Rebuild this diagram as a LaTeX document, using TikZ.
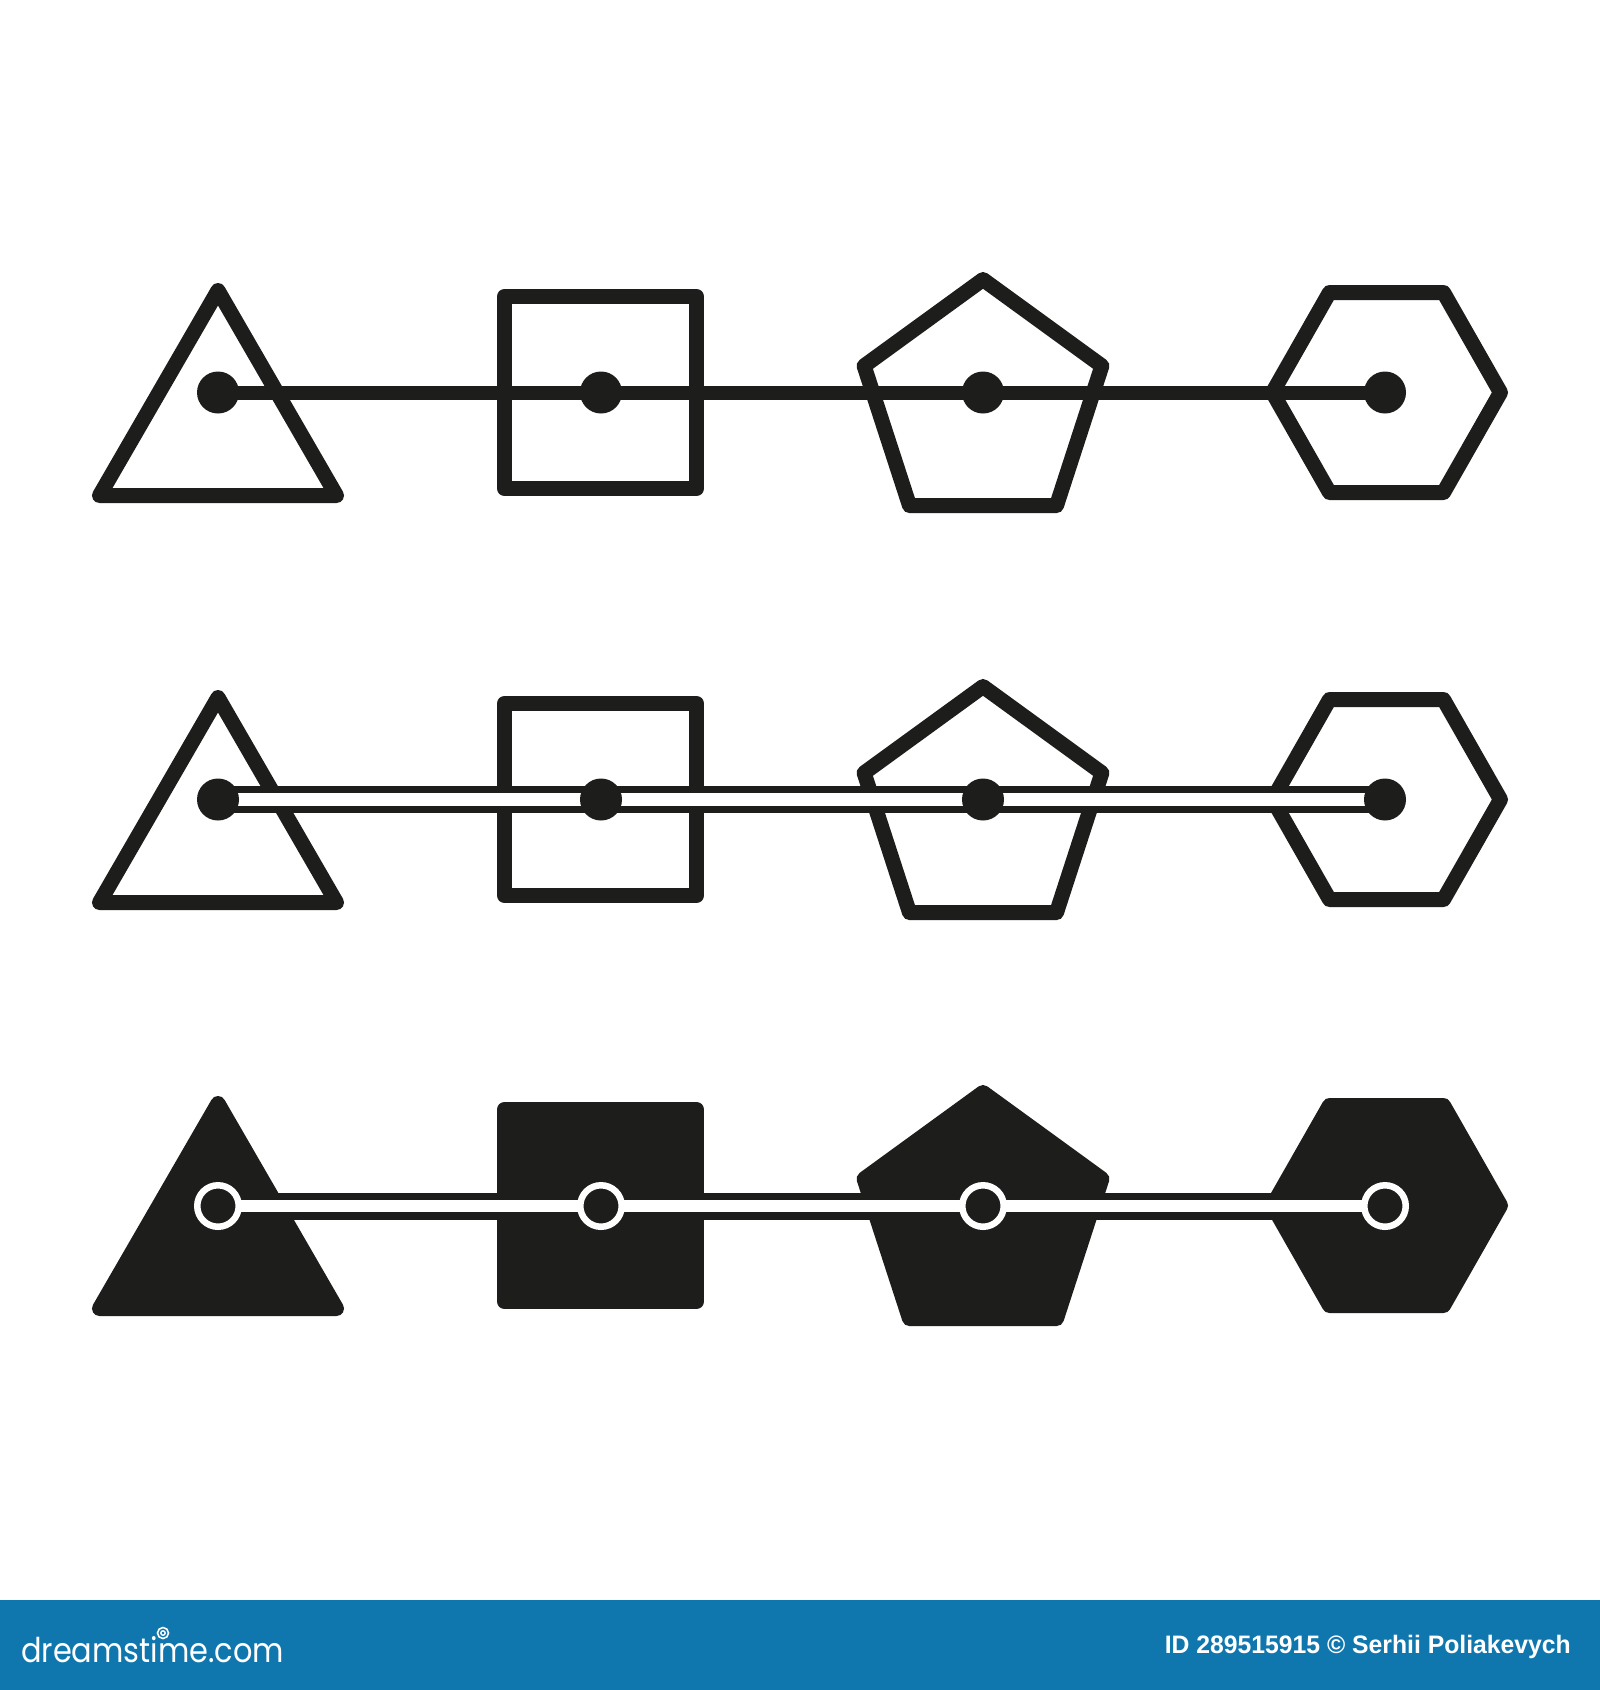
\documentclass[tikz,border=0pt]{standalone}
\usepackage{fontspec}
\usepackage{graphicx}
\newfontfamily\logofont{Poppins}
\newfontfamily\idfont{Liberation Sans}
\definecolor{ink}{RGB}{29,29,27}
\definecolor{bannerblue}{RGB}{16,119,174}
\tikzset{
  hollowshape/.style={draw=ink, line width=15pt, line join=round},
  filledshape/.style={draw=ink, fill=ink, line width=15pt, line join=round},
  thinlink/.style={draw=ink, line width=14pt},
  railouter/.style={draw=ink, line width=27pt},
  railinner/.style={draw=white, line width=12.5pt},
  dot/.style={circle, fill=ink, inner sep=0pt, minimum size=42pt},
  ring/.style={circle, fill=ink, draw=white, line width=6.5pt, inner sep=0pt, minimum size=41.5pt},
}
\newcommand\drawfourshapes[1]{%
  \draw[#1] (99.5,495.5) -- (218,290.5) -- (336.5,495.5) -- cycle;
  \draw[#1] (504.5,296.5) rectangle (696.5,488.5);
  \draw[#1] (983,279.5) -- (1101.9,365.9) -- (1056.5,505.6) -- (909.5,505.6) -- (864.1,365.9) -- cycle;
  \draw[#1] (1272.5,392.5) -- (1329.5,292.5) -- (1443.5,292.5) -- (1500.5,392.5) -- (1443.5,492.5) -- (1329.5,492.5) -- cycle;
}
\begin{document}
\begin{tikzpicture}[x=1pt, y=-1pt]
  \useasboundingbox (0,0) rectangle (1600,1690);
  \fill[white] (0,0) rectangle (1600,1690);

  % row 1: outlines with plain connector
  \drawfourshapes{hollowshape}
  \coordinate (p1) at (218,392.5);
  \coordinate (q1) at (601,392.5);
  \coordinate (r1) at (983,392.5);
  \coordinate (s1) at (1385,392.5);
  \draw[thinlink] (p1) -- (q1) -- (r1) -- (s1);
  \node[dot] (p1dot) at (p1) {};
  \node[dot] (q1dot) at (q1) {};
  \node[dot] (r1dot) at (r1) {};
  \node[dot] (s1dot) at (s1) {};

  % row 2: outlines with double connector
  \begin{scope}[yshift=-407pt]
    \drawfourshapes{hollowshape}
    \coordinate (p2) at (218,392.5);
    \coordinate (q2) at (601,392.5);
    \coordinate (r2) at (983,392.5);
    \coordinate (s2) at (1385,392.5);
    \draw[railouter] (p2) -- (q2) -- (r2) -- (s2);
    \draw[railinner] (p2) -- (q2) -- (r2) -- (s2);
    \node[dot] (p2dot) at (p2) {};
    \node[dot] (q2dot) at (q2) {};
    \node[dot] (r2dot) at (r2) {};
    \node[dot] (s2dot) at (s2) {};
  \end{scope}

  % row 3: filled shapes with rings
  \begin{scope}[yshift=-813pt]
    \drawfourshapes{filledshape}
    \coordinate (p3) at (218,393);
    \coordinate (q3) at (601,393);
    \coordinate (r3) at (983,393);
    \coordinate (s3) at (1385,393);
    \draw[railouter] (p3) -- (q3) -- (r3) -- (s3);
    \draw[railinner] (p3) -- (q3) -- (r3) -- (s3);
    \node[ring] (p3ring) at (p3) {};
    \node[ring] (q3ring) at (q3) {};
    \node[ring] (r3ring) at (r3) {};
    \node[ring] (s3ring) at (s3) {};
  \end{scope}

  % banner
  \fill[bannerblue] (0,1600) rectangle (1600,1690);
  \node[anchor=base west, inner sep=0pt, text=white] (logo) at (21,1662)
    {\resizebox{263pt}{26pt}{\logofont dreamstime.com}};
  \draw[white, line width=1.6pt] (163,1633) circle (5.5);
  \draw[white, line width=1.4pt] (163,1633) circle (2.2);
  \node[anchor=base east, inner sep=0pt, text=white] (credit) at (1571,1653.5)
    {\resizebox{406pt}{18.3pt}{\idfont\bfseries ID 289515915 © Serhii Poliakevych}};
\end{tikzpicture}
\end{document}
